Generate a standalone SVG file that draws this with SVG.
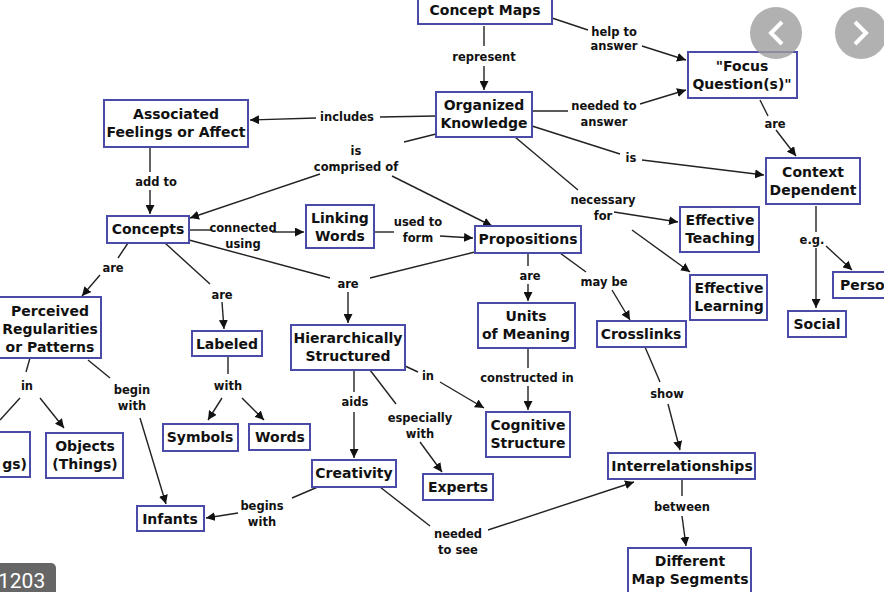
<svg xmlns="http://www.w3.org/2000/svg" width="884" height="592" viewBox="0 0 884 592">
<style>
.n rect{fill:#fff;stroke:#4a4aa8;stroke-width:2}
.n text,.l{font-family:Verdana,"DejaVu Sans",sans-serif;font-weight:bold;fill:#111;text-anchor:middle}
.n text{font-size:14px}
.l{font-size:11.5px}
#c line,#c path{stroke:#222;stroke-width:1.4;fill:none}
.a{marker-end:url(#ar)}
</style>
<defs><marker id="ar" viewBox="0 0 10 10" refX="10" refY="5" markerWidth="9" markerHeight="9" orient="auto" markerUnits="userSpaceOnUse"><path d="M0,0L10,5L0,10z" fill="#111"/></marker></defs>
<rect width="884" height="592" fill="#fff"/>
<g id="c">
<line x1="552" y1="18" x2="588" y2="30"/><line x1="642" y1="46" x2="686" y2="60" class="a"/>
<line x1="484" y1="26" x2="484" y2="46"/><line x1="484" y1="66" x2="484" y2="90" class="a"/>
<line x1="436" y1="116" x2="380" y2="117"/><line x1="316" y1="118" x2="250" y2="120" class="a"/>
<line x1="532" y1="111" x2="568" y2="111"/><line x1="640" y1="104" x2="686" y2="90" class="a"/>
<line x1="532" y1="126" x2="620" y2="154"/><line x1="642" y1="160" x2="764" y2="175" class="a"/>
<line x1="760" y1="100" x2="768" y2="116"/><line x1="776" y1="130" x2="796" y2="156" class="a"/>
<line x1="436" y1="134" x2="404" y2="142"/><line x1="320" y1="174" x2="190" y2="218" class="a"/>
<line x1="392" y1="176" x2="492" y2="226" class="a"/>
<line x1="515" y1="137" x2="578" y2="190"/><line x1="614" y1="212" x2="678" y2="222" class="a"/>
<line x1="632" y1="230" x2="690" y2="272" class="a"/>
<line x1="150" y1="147" x2="150" y2="172"/><line x1="150" y1="190" x2="150" y2="214" class="a"/>
<line x1="189" y1="230" x2="212" y2="230"/><line x1="272" y1="232" x2="304" y2="232" class="a"/>
<line x1="374" y1="232" x2="394" y2="232"/><line x1="440" y1="236" x2="473" y2="238" class="a"/>
<line x1="128" y1="243" x2="118" y2="258"/><line x1="100" y1="275" x2="82" y2="296" class="a"/>
<line x1="165" y1="243" x2="210" y2="284"/><line x1="222" y1="302" x2="224" y2="329" class="a"/>
<line x1="189" y1="240" x2="330" y2="278"/><line x1="475" y1="252" x2="370" y2="278"/><line x1="348" y1="292" x2="348" y2="323" class="a"/>
<line x1="528" y1="253" x2="528" y2="266"/><line x1="528" y1="284" x2="528" y2="301" class="a"/>
<line x1="560" y1="253" x2="586" y2="272"/><line x1="612" y1="290" x2="630" y2="320" class="a"/>
<line x1="816" y1="206" x2="816" y2="232"/><line x1="816" y1="248" x2="816" y2="308" class="a"/>
<line x1="826" y1="246" x2="852" y2="270" class="a"/>
<line x1="30" y1="358" x2="26" y2="372"/><line x1="20" y1="398" x2="0" y2="420"/>
<line x1="40" y1="398" x2="64" y2="428" class="a"/>
<line x1="88" y1="360" x2="110" y2="378"/><line x1="140" y1="418" x2="166" y2="504" class="a"/>
<line x1="228" y1="356" x2="228" y2="374"/><line x1="222" y1="398" x2="208" y2="420" class="a"/>
<line x1="242" y1="398" x2="264" y2="420" class="a"/>
<line x1="405" y1="366" x2="418" y2="372"/><line x1="440" y1="382" x2="484" y2="408" class="a"/>
<line x1="354" y1="370" x2="354" y2="392"/><line x1="354" y1="412" x2="354" y2="458" class="a"/>
<line x1="370" y1="370" x2="396" y2="404"/><line x1="420" y1="442" x2="442" y2="472" class="a"/>
<line x1="528" y1="348" x2="528" y2="368"/><line x1="528" y1="386" x2="528" y2="410" class="a"/>
<line x1="645" y1="347" x2="660" y2="382"/><line x1="668" y1="404" x2="680" y2="450" class="a"/>
<line x1="320" y1="486" x2="292" y2="498"/><line x1="238" y1="513" x2="206" y2="518" class="a"/>
<line x1="380" y1="487" x2="430" y2="526"/><line x1="488" y1="530" x2="634" y2="482" class="a"/>
<line x1="682" y1="479" x2="682" y2="496"/><line x1="682" y1="516" x2="686" y2="546" class="a"/>
</g>
<g class="l">
<text class="l" x="614" y="36">help to</text><text class="l" x="614" y="50">answer</text>
<text class="l" x="484" y="61">represent</text>
<text class="l" x="347" y="121">includes</text>
<text class="l" x="604" y="110">needed to</text><text class="l" x="604" y="126">answer</text>
<text class="l" x="631" y="162">is</text>
<text class="l" x="775" y="128">are</text>
<text class="l" x="356" y="155">is</text><text class="l" x="356" y="171">comprised of</text>
<text class="l" x="603" y="204">necessary</text><text class="l" x="603" y="220">for</text>
<text class="l" x="156" y="186">add to</text>
<text class="l" x="243" y="232">connected</text><text class="l" x="243" y="248">using</text>
<text class="l" x="418" y="226">used to</text><text class="l" x="418" y="242">form</text>
<text class="l" x="113" y="272">are</text>
<text class="l" x="222" y="299">are</text>
<text class="l" x="348" y="288">are</text>
<text class="l" x="530" y="280">are</text>
<text class="l" x="604" y="286">may be</text>
<text class="l" x="812" y="244">e.g.</text>
<text class="l" x="27" y="390">in</text>
<text class="l" x="132" y="394">begin</text><text class="l" x="132" y="410">with</text>
<text class="l" x="228" y="390">with</text>
<text class="l" x="428" y="380">in</text>
<text class="l" x="355" y="406">aids</text>
<text class="l" x="420" y="422">especially</text><text class="l" x="420" y="438">with</text>
<text class="l" x="527" y="382">constructed in</text>
<text class="l" x="667" y="398">show</text>
<text class="l" x="262" y="510">begins</text><text class="l" x="262" y="526">with</text>
<text class="l" x="458" y="538">needed</text><text class="l" x="458" y="554">to see</text>
<text class="l" x="682" y="511">between</text>
</g>
<g id="n1" class="n"><rect x="418" y="-4" width="134" height="28"/><text x="485" y="15">Concept Maps</text></g>
<g id="n2" class="n"><rect x="688" y="52" width="109" height="46"/><text x="742" y="71">"Focus</text><text x="742" y="89">Question(s)"</text></g>
<g id="n3" class="n"><rect x="436" y="92" width="96" height="45"/><text x="484" y="110">Organized</text><text x="484" y="128">Knowledge</text></g>
<g id="n4" class="n"><rect x="104" y="100" width="144" height="47"/><text x="176" y="119">Associated</text><text x="176" y="137">Feelings or Affect</text></g>
<g id="n5" class="n"><rect x="766" y="158" width="94" height="46"/><text x="813" y="177">Context</text><text x="813" y="195">Dependent</text></g>
<g id="n6" class="n"><rect x="107" y="216" width="82" height="27"/><text x="148" y="234">Concepts</text></g>
<g id="n7" class="n"><rect x="306" y="205" width="68" height="43"/><text x="340" y="223">Linking</text><text x="340" y="241">Words</text></g>
<g id="n8" class="n"><rect x="475" y="226" width="106" height="27"/><text x="528" y="244">Propositions</text></g>
<g id="n9" class="n"><rect x="680" y="207" width="79" height="45"/><text x="720" y="225">Effective</text><text x="720" y="243">Teaching</text></g>
<g id="n10" class="n"><rect x="690" y="275" width="77" height="45"/><text x="729" y="293">Effective</text><text x="729" y="311">Learning</text></g>
<g id="n11" class="n"><rect x="788" y="311" width="58" height="26"/><text x="817" y="329">Social</text></g>
<g id="n12" class="n"><rect x="833" y="272" width="60" height="26"/><text x="840" y="290" style="text-anchor:start">Person</text></g>
<g id="n13" class="n"><rect x="-2" y="297" width="103" height="61"/><text x="50" y="316">Perceived</text><text x="50" y="334">Regularities</text><text x="50" y="352">or Patterns</text></g>
<g id="n14" class="n"><rect x="192" y="331" width="70" height="25"/><text x="227" y="349">Labeled</text></g>
<g id="n15" class="n"><rect x="291" y="325" width="114" height="45"/><text x="348" y="343">Hierarchically</text><text x="348" y="361">Structured</text></g>
<g id="n16" class="n"><rect x="478" y="303" width="97" height="45"/><text x="526" y="321">Units</text><text x="526" y="339">of Meaning</text></g>
<g id="n17" class="n"><rect x="597" y="321" width="89" height="26"/><text x="641" y="339">Crosslinks</text></g>
<g id="n18" class="n"><rect x="163" y="424" width="75" height="27"/><text x="200" y="442">Symbols</text></g>
<g id="n19" class="n"><rect x="249" y="424" width="61" height="26"/><text x="280" y="442">Words</text></g>
<g id="n20" class="n"><rect x="46" y="433" width="77" height="45"/><text x="85" y="451">Objects</text><text x="85" y="469">(Things)</text></g>
<g id="n21" class="n"><rect x="-20" y="432" width="50" height="45"/><text x="27" y="469" style="text-anchor:end">gs)</text></g>
<g id="n22" class="n"><rect x="486" y="412" width="84" height="45"/><text x="528" y="430">Cognitive</text><text x="528" y="448">Structure</text></g>
<g id="n23" class="n"><rect x="312" y="460" width="84" height="27"/><text x="354" y="478">Creativity</text></g>
<g id="n24" class="n"><rect x="423" y="474" width="70" height="26"/><text x="458" y="492">Experts</text></g>
<g id="n25" class="n"><rect x="608" y="453" width="147" height="26"/><text x="682" y="471">Interrelationships</text></g>
<g id="n26" class="n"><rect x="137" y="506" width="67" height="25"/><text x="170" y="524">Infants</text></g>
<g id="n27" class="n"><rect x="628" y="548" width="123" height="46"/><text x="690" y="566">Different</text><text x="690" y="584">Map Segments</text></g>
<g id="overlay">
<circle cx="776" cy="33" r="26" fill="#9e9e9e" opacity="0.8"/><path d="M782,22L771,33L782,44" stroke="#fff" stroke-width="4" fill="none"/>
<circle cx="861" cy="33" r="26" fill="#9e9e9e" opacity="0.8"/><path d="M855,22L866,33L855,44" stroke="#fff" stroke-width="4" fill="none"/>
<rect x="-6" y="563" width="62" height="35" rx="5" fill="#666"/><text x="-2" y="588" font-family="Roboto,sans-serif" font-size="21" fill="#fff">1203</text>
</g>
</svg>
